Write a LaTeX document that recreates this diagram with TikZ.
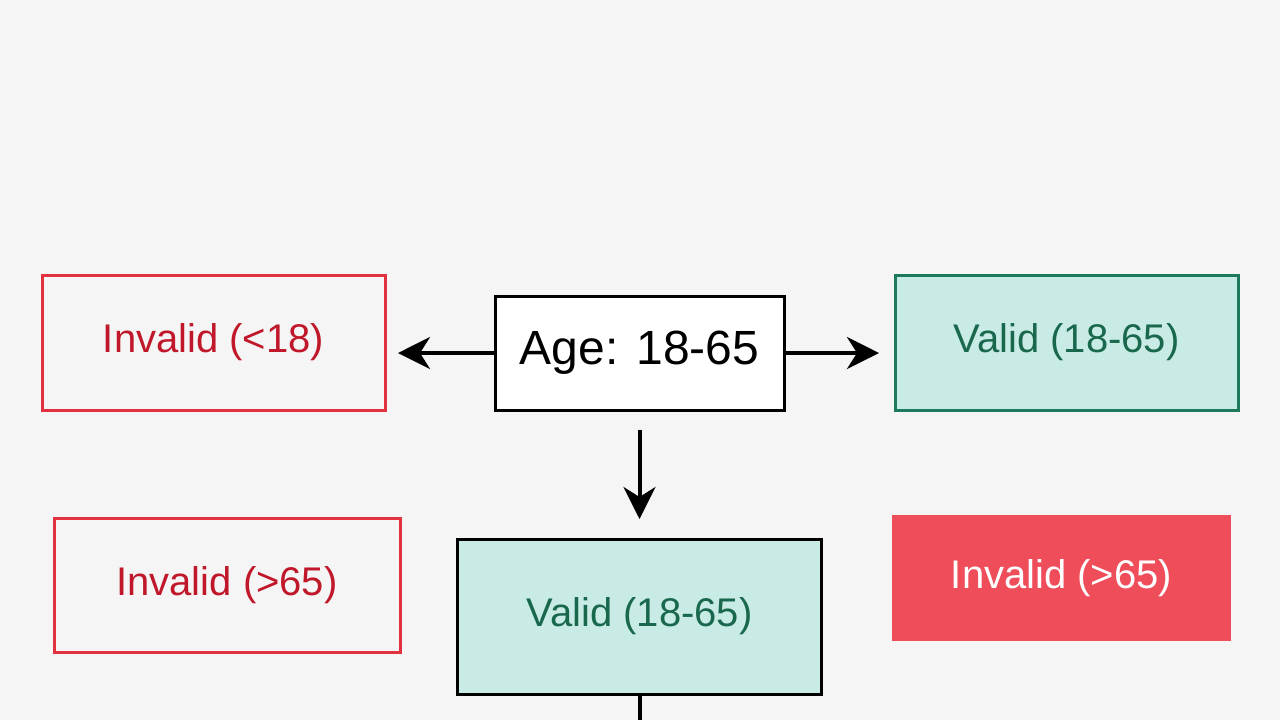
\documentclass[tikz,border=0pt]{standalone}
\usepackage{fontspec}
\setmainfont{Liberation Sans}
\usetikzlibrary{arrows.meta}

\definecolor{bgcol}{HTML}{F5F5F5}
\definecolor{badred}{HTML}{E2323F}
\definecolor{badtext}{HTML}{C0182A}
\definecolor{badfill}{HTML}{EF4D5A}
\definecolor{goodgreen}{HTML}{1E7A5C}
\definecolor{goodfill}{HTML}{C9EBE5}

\begin{document}
\begin{tikzpicture}[x=0.5pt, y=-0.5pt,
	box/.style={draw, line width=1.5pt, inner sep=0pt, font=\fontsize{20}{24}\selectfont},
	badbox/.style={box, draw=badred, fill=bgcol, text=badtext},
	goodbox/.style={box, draw=goodgreen, fill=goodfill, text=goodgreen!85!black},
	arr/.style={-{Stealth[length=16pt, width=16pt, inset=5pt]}, line width=2pt}]

\fill[bgcol] (0,0) rectangle (1280,720);
\useasboundingbox (0,0) rectangle (1280,720);

% top row
\node[box, draw=black, fill=white, minimum width=144.5pt, minimum height=57pt,
	font=\fontsize{24}{28}\selectfont] (age) at (639.5,353) {Age: 18-65};
\node[badbox, minimum width=171.5pt, minimum height=67.5pt] (under) at (213.5,342.5) {Invalid (<18)};
\node[goodbox, minimum width=171.5pt, minimum height=67.5pt] (valid) at (1066.5,342.5) {Valid (18-65)};

% bottom row
\node[badbox, minimum width=173pt, minimum height=67pt] (overL) at (227,585) {Invalid (>65)};
\node[box, draw=black, fill=goodfill, text=goodgreen!85!black, minimum width=182pt, minimum height=77.5pt] (validB) at (639.5,616.5) {Valid (18-65)};
\node[box, draw=none, fill=badfill, text=white, minimum width=169.5pt, minimum height=63pt] (overR) at (1061.5,578) {Invalid (>65)};

\coordinate (leftend) at (398,353);
\coordinate (rightend) at (879,353);
\coordinate (downstart) at (639.5,430);
\coordinate (downend) at (639.5,519);
\coordinate (edge) at (639.5,720);

\draw[arr] (age.west) -- (leftend);
\draw[arr] (age.east) -- (rightend);
\draw[arr] (downstart) -- (downend);
\draw[line width=2pt] (validB.south) -- (edge);
\end{tikzpicture}
\end{document}
